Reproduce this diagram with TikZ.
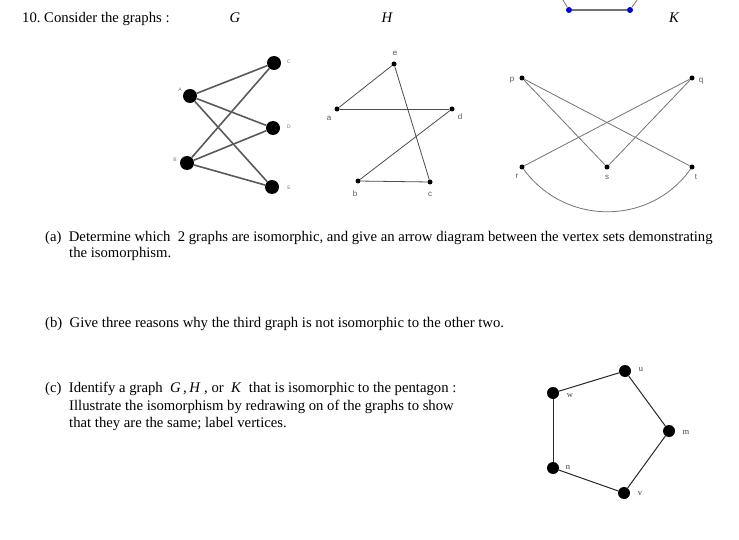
\documentclass[tikz,border=0pt]{standalone}
\usepackage{fontspec}
\setmainfont{Liberation Serif}
\setsansfont{Liberation Sans}
\begin{document}
\begin{tikzpicture}[x=1pt,y=-1pt,
  txt/.style={anchor=base west,inner sep=0pt,font=\fontsize{14.7}{16}\selectfont},
  ttl/.style={anchor=base,inner sep=0pt,font=\fontsize{14.7}{16}\selectfont\itshape},
  gdot/.style={circle,fill=black,inner sep=0pt,minimum size=14pt},
  hdot/.style={circle,fill=black,inner sep=0pt,minimum size=5pt},
  bdot/.style={circle,fill=blue!85!black,inner sep=0pt,minimum size=6pt},
  pdot/.style={circle,fill=black,inner sep=0pt,minimum size=12pt},
  glab/.style={inner sep=0pt,text=black!55,font=\sffamily\fontsize{5}{6}\selectfont},
  hlab/.style={inner sep=0pt,text=black!65,font=\sffamily\fontsize{8}{9}\selectfont},
  plab/.style={inner sep=0pt,text=black!75,font=\fontsize{8.5}{9}\selectfont},
  gedge/.style={draw=black!65,line width=1.6pt},
  hedge/.style={draw=black!70,line width=0.8pt},
  kedge/.style={draw=black!55,line width=0.8pt},
  pedge/.style={draw=black!85,line width=1pt}]
\useasboundingbox (0,0) rectangle (739,540);
% texts
\node[txt] (t10) at (22,23) {10.\ Consider the graphs :};
\node[ttl] (tG) at (235,23) {G};
\node[ttl] (tH) at (387,23) {H};
\node[ttl] (tK) at (674,23) {K};
\node[txt] (ta1) at (45,242) {(a)\ \ Determine which\ \ 2 graphs are isomorphic, and give an arrow diagram between the vertex sets demonstrating};
\node[txt] (ta2) at (69,258) {the isomorphism.};
\node[txt] (tb) at (45,327) {(b)\ \ Give three reasons why the third graph is not isomorphic to the other two.};
\node[txt] (tc1) at (45,392) {(c)\ \ Identify a graph\ \ \textit{G}\,,\,\textit{H}\ , or\ \ \textit{K}\ \ that is isomorphic to the pentagon :};
\node[txt] (tc2) at (69,410) {Illustrate the isomorphism by redrawing on of the graphs to show};
\node[txt] (tc3) at (69,427) {that they are the same; label vertices.};
% graph G
\node[gdot] (A) at (190,96) {};
\node[gdot] (B) at (187,163) {};
\node[gdot] (C) at (274,63) {};
\node[gdot] (D) at (273,128) {};
\node[gdot] (E) at (272,187) {};
\node[glab] (lA) at (180,90) {A};
\node[glab] (lB) at (175,160) {B};
\node[glab] (lC) at (289,62) {C};
\node[glab] (lD) at (289,127) {D};
\node[glab] (lE) at (289,188) {E};
\draw[gedge] (A) -- (C);
\draw[gedge] (A) -- (D);
\draw[gedge] (A) -- (E);
\draw[gedge] (B) -- (C);
\draw[gedge] (B) -- (D);
\draw[gedge] (B) -- (E);
% graph H
\node[hdot] (e) at (394,64) {};
\node[hdot] (a) at (337,109) {};
\node[hdot] (d) at (452,109) {};
\node[hdot] (b) at (358,181) {};
\node[hdot] (c) at (430,182) {};
\node[hlab] (le) at (395,53) {e};
\node[hlab] (la) at (329,118) {a};
\node[hlab] (ld) at (460,117) {d};
\node[hlab] (lb) at (355,194) {b};
\node[hlab] (lc) at (430,194) {c};
\draw[hedge] (a) -- (e);
\draw[hedge] (a) -- (d);
\draw[hedge] (e) -- (c);
\draw[hedge] (d) -- (b);
\draw[hedge] (b) -- (c);
% partial blue graph
\coordinate (bl) at (563,0);
\coordinate (br) at (637,0);
\node[bdot] (b1) at (569,10) {};
\node[bdot] (b2) at (630,10) {};
\draw[kedge,line width=1.2pt] (b1) -- (b2);
\draw[kedge] (bl) -- (b1);
\draw[kedge] (br) -- (b2);
% graph K
\node[hdot] (p) at (522,78) {};
\node[hdot] (q) at (692,78) {};
\node[hdot] (r) at (522,167) {};
\node[hdot] (s) at (607,167) {};
\node[hdot] (t) at (692,167) {};
\node[hlab] (lp) at (512,80) {p};
\node[hlab] (lq) at (701,81) {q};
\node[hlab] (lr) at (517,176) {r};
\node[hlab] (ls) at (607,177) {s};
\node[hlab] (lt) at (696,177) {t};
\draw[kedge] (p) -- (s);
\draw[kedge] (p) -- (t);
\draw[kedge] (q) -- (r);
\draw[kedge] (q) -- (s);
\draw[kedge] (r) .. controls (565,226) and (650,226) .. (t);
% pentagon
\node[pdot] (u) at (625,371) {};
\node[pdot] (w) at (553,393) {};
\node[pdot] (m) at (669,431) {};
\node[pdot] (n) at (553,468) {};
\node[pdot] (v) at (624,493) {};
\node[plab] (lu) at (641,370) {u};
\node[plab] (lw) at (570,396) {w};
\node[plab] (lm) at (686,432) {m};
\node[plab] (ln) at (568,467) {n};
\node[plab] (lv) at (640,494) {v};
\draw[pedge] (w) -- (u);
\draw[pedge] (u) -- (m);
\draw[pedge] (m) -- (v);
\draw[pedge] (v) -- (n);
\draw[pedge] (n) -- (w);
\end{tikzpicture}
\end{document}
